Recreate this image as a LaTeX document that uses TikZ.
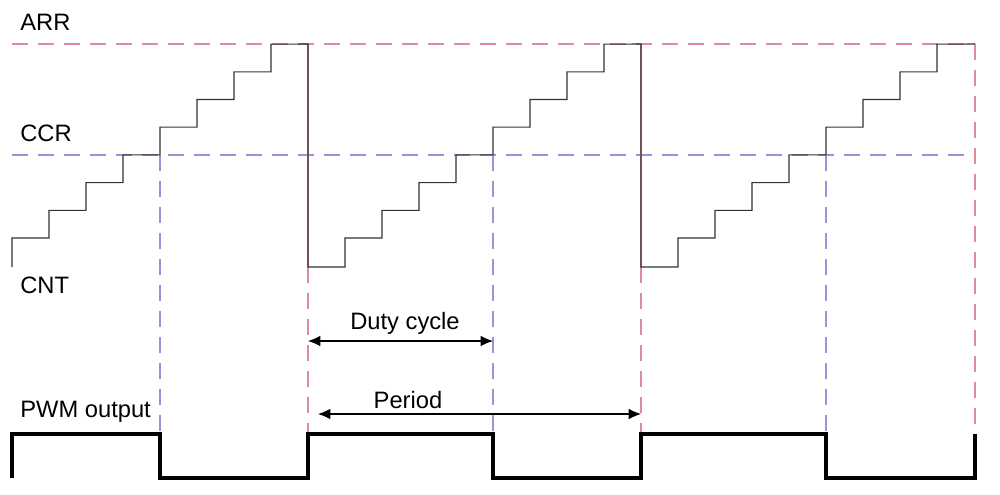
\documentclass[tikz,border=0pt]{standalone}
\usepackage{fontspec}
\setmainfont{Liberation Sans}
\usetikzlibrary{arrows.meta}
\definecolor{dred}{RGB}{220,140,155}
\definecolor{dblue}{RGB}{150,150,215}
\begin{document}
\begin{tikzpicture}[x=0.02cm,y=-0.02cm,
  lbl/.style={anchor=west,inner sep=0pt,font=\fontsize{13.5}{15}\selectfont},
  rdash/.style={dred,dash pattern=on 0.32cm off 0.2cm,line width=0.6pt},
  bdash/.style={dblue,dash pattern=on 0.32cm off 0.2cm,line width=0.6pt},
  cnt/.style={black!80,line width=0.6pt},
  pwm/.style={black,line width=1.8pt},
  dim/.style={{Latex[length=7pt,width=6pt]}-{Latex[length=7pt,width=6pt]},line width=0.6pt}]
\useasboundingbox (0,0) rectangle (1000,494);
% labels
\node[lbl] (arr) at (20,22) {ARR};
\node[lbl] (ccr) at (20,133) {CCR};
\node[lbl] (cntl) at (20,285) {CNT};
\node[lbl] (pwml) at (20,412) {PWM output};
% horizontal dashed
\draw[rdash] (12,44) -- (975,44);
\draw[bdash] (12,155) -- (975,155);
% vertical dashed
\foreach \x in {160,493,826} \draw[bdash] (\x,155) -- (\x,434);
\foreach \x in {308,641} {\draw[dred,line width=0.6pt] (\x,44) -- (\x,267); \draw[rdash] (\x,267) -- (\x,434);}
\draw[rdash] (975,44) -- (975,434);
% counter
\draw[cnt] (12,267) -- (12,238)
  \foreach \i in {1,...,7} { -- ++(37,0) -- ++(0,-27.7) } -- (308,44) -- (308,267)
  -- (345,267) -- (345,238)
  \foreach \i in {1,...,7} { -- ++(37,0) -- ++(0,-27.7) } -- (641,44) -- (641,267)
  -- (678,267) -- (678,238)
  \foreach \i in {1,...,7} { -- ++(37,0) -- ++(0,-27.7) } -- (975,44);
% pwm
\draw[pwm] (12,478) -- (12,434) -- (160,434) -- (160,478) -- (308,478) -- (308,434)
  -- (493,434) -- (493,478) -- (641,478) -- (641,434) -- (826,434) -- (826,478)
  -- (975,478) -- (975,434);
% dimension arrows
\coordinate (d1) at (308,341); \coordinate (d2) at (493,341);
\draw[dim] (d1) -- (d2);
\node[font=\fontsize{13.5}{15}\selectfont,inner sep=0pt] (duty) at (405,323) {Duty cycle};
\coordinate (p1) at (318,414); \coordinate (p2) at (641,414);
\draw[dim] (p1) -- (p2);
\node[font=\fontsize{13.5}{15}\selectfont,inner sep=0pt] (per) at (408,400) {Period};
\end{tikzpicture}
\end{document}
